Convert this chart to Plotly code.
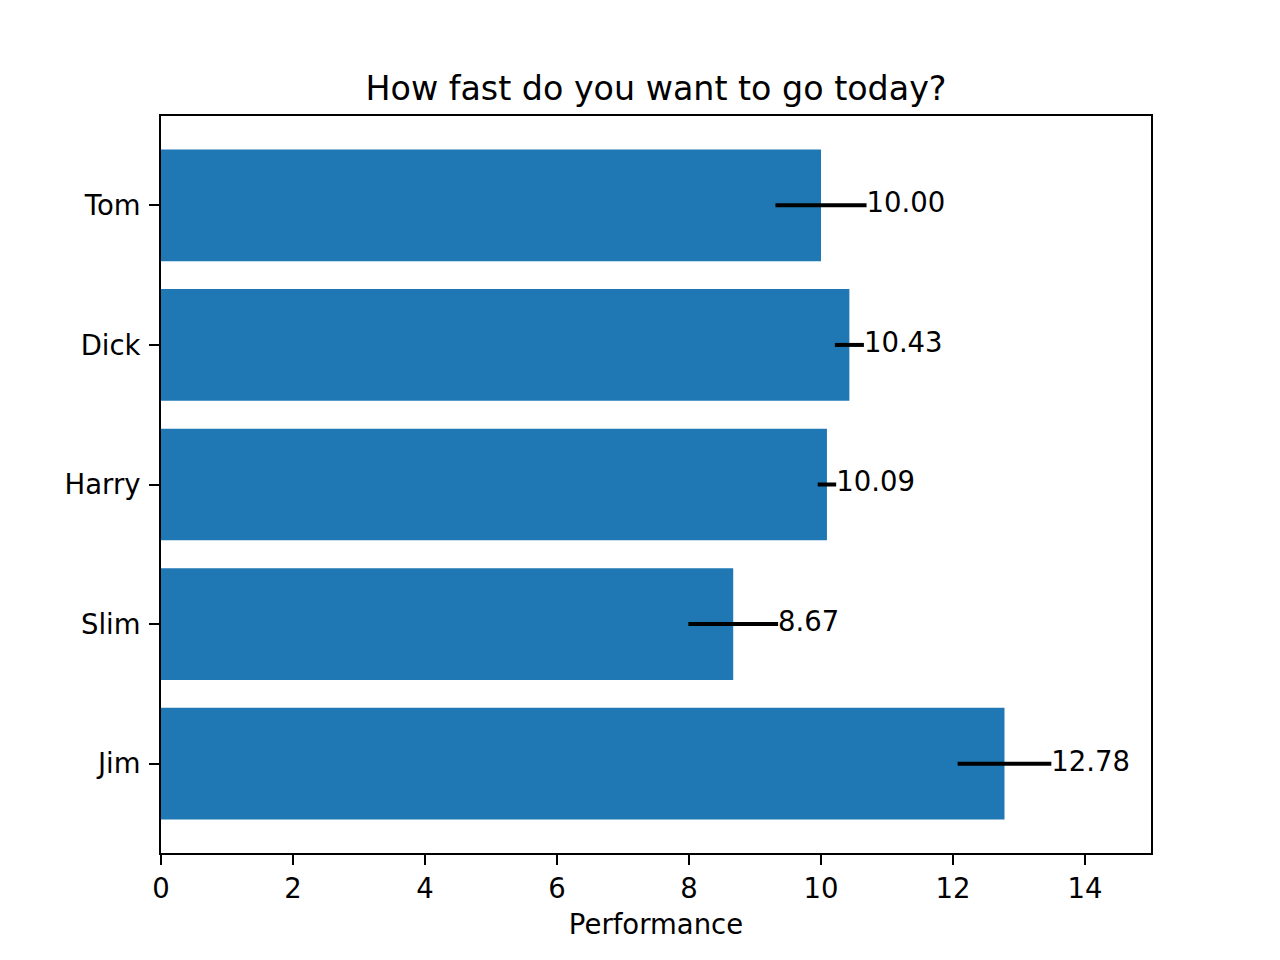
import plotly.graph_objects as go

people = ["Tom", "Dick", "Harry", "Slim", "Jim"]
performance = [10.00, 10.43, 10.09, 8.67, 12.78]
error = [0.69, 0.22, 0.14, 0.68, 0.71]
x_ticks = [0, 2, 4, 6, 8, 10, 12, 14]

y_pos = list(range(len(people)))
labels = [f"{v:.2f}" for v in performance]
label_x = [p + e for p, e in zip(performance, error)]

font = "DejaVu Sans, Liberation Sans, sans-serif"

fig = go.Figure()
fig.add_trace(go.Bar(
    x=performance, y=y_pos, orientation="h", width=0.8,
    marker=dict(color="#1f77b4", line=dict(width=0)),
    error_x=dict(type="data", array=error, color="black", thickness=4, width=0),
    showlegend=False, hoverinfo="skip"))
fig.add_trace(go.Scatter(
    x=label_x, y=y_pos, mode="text", text=labels, textposition="middle right",
    textfont=dict(family=font, size=27.5, color="black"),
    showlegend=False, cliponaxis=False))

fig.update_layout(
    width=1280, height=960,
    margin=dict(l=153, r=137, t=108, b=115),
    paper_bgcolor="white", plot_bgcolor="white",
    font=dict(family=font, size=27.5, color="black"),
    title=dict(text="How fast do you want to go today?", x=(153 + 1143) / 2 / 1280,
               xref="container", xanchor="center", y=1 - 80 / 960, yref="container",
               yanchor="middle", font=dict(size=33.3, color="black")),
    xaxis=dict(range=[0, 15], tickvals=x_ticks, ticks="outside", ticklen=10, tickwidth=2,
               tickcolor="black", showline=True, linecolor="black", linewidth=2,
               mirror=True, showgrid=False, zeroline=False,
               title=dict(text="Performance", standoff=12, font=dict(size=27.5))),
    yaxis=dict(range=[4.64, -0.64], tickvals=y_pos, ticktext=people, ticks="outside",
               ticklen=10, tickwidth=2, tickcolor="black", showline=True,
               linecolor="black", linewidth=2, mirror=True, showgrid=False,
               zeroline=False, ticklabelstandoff=3),
)

fig.write_html("out.html")
